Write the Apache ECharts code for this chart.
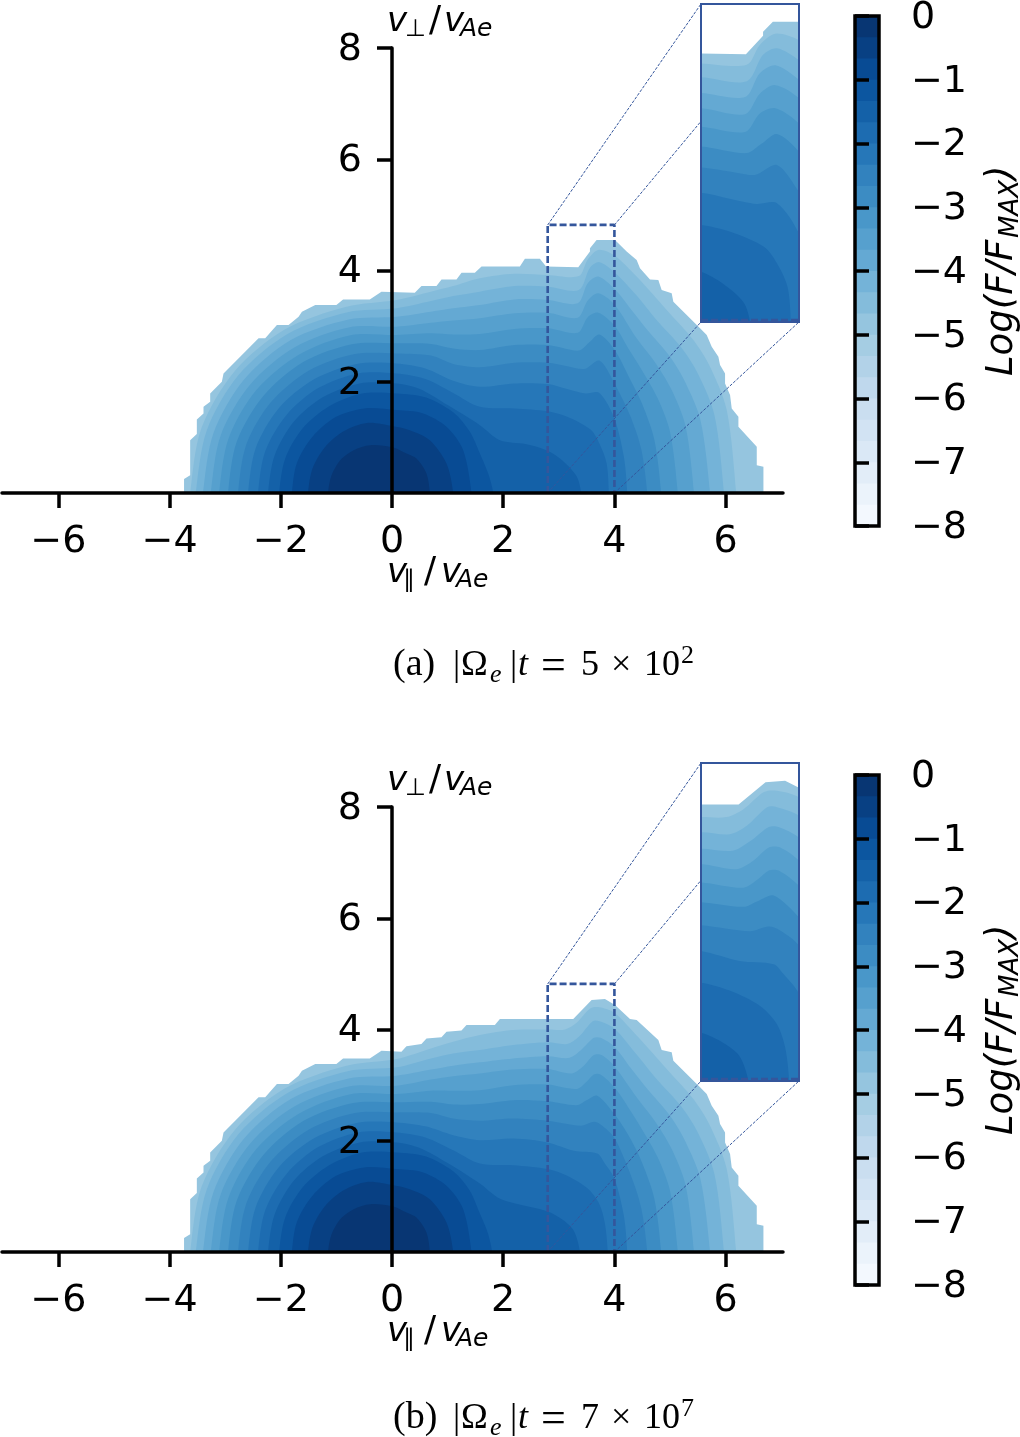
<!DOCTYPE html>
<html>
<head>
<meta charset="utf-8">
<style>
  html, body { margin: 0; padding: 0; background: #fff; }
  #chart { width: 1020px; height: 1437px; }
</style>
<script src="https://cdn.jsdelivr.net/npm/echarts@6/dist/echarts.min.js"></script>
</head>
<body>
<div id="chart"></div>
<script>
// axis ticks
const xTicks = [-6, -4, -2, 0, 2, 4, 6];
const yTicks = [2, 4, 6, 8];

// colour bar, bottom to top: one band every third of a decade
const barEdges = [-8, -7.667, -7.333, -7, -6.667, -6.333, -6, -5.667, -5.333, -5, -4.667, -4.333, -4,
  -3.667, -3.333, -3, -2.667, -2.333, -2, -1.667, -1.333, -1, -0.667, -0.333, 0];
const bandColors = ['#f3f8fe', '#ebf3fb', '#e2edf8', '#dae8f6', '#d2e3f3', '#cadef0', '#bfd8ed', '#b2d2e8',
  '#a5cde3', '#95c5df', '#84bcdb', '#74b3d8', '#64a9d3', '#56a0ce', '#4997c9', '#3c8cc3', '#3282be', '#2677b8',
  '#1d6cb1', '#1461a8', '#0c56a0', '#084b94', '#084083', '#083673'];

// contour levels drawn, inner to outer
const contourLevels = [-0.333, -0.667, -1, -1.333, -1.667, -2, -2.333, -2.667, -3, -3.333, -3.667, -4, -4.333, -4.667, -5];

// left half of each contour (same in both panels), from the baseline up to the v_perp axis
const contourLeft = [
  [[-1.15,0],[-1.09,.31],[-.93,.59],[-.69,.77],[-.39,.86]],
  [[-1.51,0],[-1.43,.44],[-1.21,.82],[-.87,1.11],[-.45,1.26]],
  [[-1.80,0],[-1.71,.54],[-1.43,1.01],[-1.02,1.36],[-.50,1.52]],
  [[-2.03,0],[-1.92,.62],[-1.61,1.16],[-1.13,1.56],[-.54,1.79]],
  [[-2.23,0],[-2.11,.68],[-1.76,1.29],[-1.23,1.73],[-.58,1.97]],
  [[-2.41,0],[-2.28,.75],[-1.90,1.40],[-1.32,1.89],[-.61,2.15]],
  [[-2.59,0],[-2.45,.81],[-2.04,1.52],[-1.41,2.04],[-.64,2.32]],
  [[-2.77,0],[-2.62,.87],[-2.18,1.63],[-1.50,2.20],[-.67,2.50]],
  [[-2.95,0],[-2.79,.93],[-2.31,1.75],[-1.59,2.36],[-.70,2.68]],
  [[-3.11,0],[-2.94,.98],[-2.44,1.85],[-1.67,2.49],[-.73,2.84]],
  [[-3.26,0],[-3.08,1.04],[-2.55,1.95],[-1.75,2.62],[-.76,2.98]],
  [[-3.40,0],[-3.21,1.08],[-2.66,2.04],[-1.82,2.75],[-.78,3.12]],
  [[-3.53,0],[-3.33,1.13],[-2.76,2.12],[-1.88,2.86],[-.80,3.25]],
  [[-3.63,0],[-3.43,1.16],[-2.83,2.19],[-1.93,2.94],[-.82,3.35]],
  [[-3.74,0],[-3.74,.25],[-3.63,.32],[-3.63,.95],[-3.51,1.06],[-3.51,1.32],[-3.39,1.43],[-3.39,1.55],[-3.27,1.64],
   [-3.27,1.79],[-3.06,2.00],[-3.03,2.15],[-2.40,2.78],[-2.28,2.78],[-2.07,3.02],[-1.86,3.02],[-1.68,3.17],[-1.62,3.26],
   [-1.38,3.38],[-1.00,3.38],[-.88,3.48],[-.40,3.48],[-.19,3.62]]
];

// right half of each contour, panel (a)
const contourRightA = [
  [[.02,.82],[.26,.71],[.44,.62],[.62,.35],[.68,0]],
  [[.02,1.2],[.32,1.13],[.68,.95],[.98,.53],[1.10,0]],
  [[.08,1.49],[.56,1.43],[.98,1.19],[1.28,.77],[1.43,0]],
  [[.08,1.79],[.6,1.72],[1.1,1.45],[1.4,1.1],[1.58,.71],[1.73,.35],[1.82,0]],
  [[.08,1.97],[.5,1.87],[1.0,1.58],[1.58,1.22],[1.94,.95],[2.4,.88],[2.8,.76],[3.07,.58],[3.32,.30],[3.40,0]],
  [[.08,2.15],[.6,2.05],[1.1,1.8],[1.58,1.55],[2.2,1.52],[2.8,1.47],[3.15,1.37],[3.57,1.14],[3.73,.89],[3.86,.53],[3.90,0]],
  [[.08,2.33],[.6,2.24],[1.1,2.02],[1.58,1.91],[2.2,1.97],[2.8,1.96],[3.15,1.87],[3.48,1.79],[3.73,1.80],[4,1.34],[4.17,.65],[4.23,0]],
  [[.08,2.51],[.7,2.47],[1.1,2.32],[1.58,2.26],[2.2,2.34],[2.8,2.34],[3.15,2.28],[3.46,2.23],[3.73,2.38],[4,1.97],[4.28,1.4],[4.48,.8],[4.59,0]],
  [[.08,2.69],[.7,2.68],[1.1,2.6],[1.58,2.57],[2.2,2.66],[2.8,2.66],[3.36,2.56],[3.54,2.70],[3.73,2.85],[4,2.58],[4.28,2.05],[4.5,1.6],[4.72,.95],[4.84,0]],
  [[.08,2.84],[.7,2.87],[1.1,2.85],[1.58,2.86],[2.2,2.95],[2.8,2.96],[3.34,2.88],[3.52,3.16],[3.71,3.24],[4,3.01],[4.25,2.6],[4.5,2.2],[4.78,1.7],[5,1.1],[5.14,0]],
  [[.08,2.99],[.7,3.06],[1.1,3.1],[1.58,3.14],[2.2,3.23],[2.8,3.24],[3.34,3.15],[3.52,3.46],[3.71,3.59],[4,3.39],[4.4,2.78],[4.75,2.32],[5.03,1.85],[5.28,1.2],[5.43,0]],
  [[.08,3.17],[.7,3.26],[1.1,3.32],[1.58,3.38],[2.2,3.48],[2.8,3.47],[3.34,3.41],[3.52,3.77],[3.71,3.89],[4,3.67],[4.3,3.3],[4.6,2.92],[5,2.45],[5.27,2.0],[5.55,1.3],[5.72,0]],
  [[.08,3.32],[.7,3.45],[1.1,3.54],[1.58,3.62],[2.2,3.72],[2.8,3.71],[3.36,3.65],[3.56,4.05],[3.73,4.15],[4,3.97],[4.4,3.55],[4.75,3.12],[5.2,2.62],[5.5,2.15],[5.8,1.4],[5.97,0]],
  [[.08,3.47],[.7,3.62],[1.1,3.72],[1.58,3.86],[2.2,3.94],[2.8,3.92],[3.36,3.90],[3.52,4.2],[3.71,4.37],[4,4.27],[4.4,3.89],[4.94,3.29],[5.42,2.75],[5.72,2.27],[6.02,1.49],[6.19,0]],
  [[.41,3.60],[.53,3.72],[.80,3.72],[.89,3.84],[1.16,3.84],[1.25,3.96],[1.49,3.96],[1.61,4.07],[2.30,4.07],[2.39,4.21],[2.66,4.21],[2.77,4.07],
   [3.35,4.06],[3.56,4.34],[3.56,4.40],[3.68,4.55],[4.01,4.55],[4.22,4.34],[4.40,4.19],[4.46,4.04],[4.64,3.84],[4.79,3.83],[4.85,3.65],[5.03,3.59],
   [5.06,3.44],[5.54,2.96],[5.66,2.84],[5.75,2.63],[5.87,2.45],[5.90,2.30],[5.99,2.15],[5.99,1.97],[6.08,1.76],[6.11,1.52],[6.23,1.37],[6.23,1.19],
   [6.56,.83],[6.56,.50],[6.68,.47],[6.68,0]]
];

// right half of each contour, panel (b)
const contourRightB = [
  [[.02,.82],[.26,.71],[.44,.62],[.62,.35],[.68,0]],
  [[.02,1.2],[.32,1.13],[.68,.95],[.98,.53],[1.10,0]],
  [[.08,1.49],[.56,1.43],[.98,1.19],[1.28,.77],[1.43,0]],
  [[.08,1.79],[.6,1.72],[1.1,1.45],[1.4,1.1],[1.58,.69],[1.72,.35],[1.80,0]],
  [[.08,1.97],[.5,1.87],[1.0,1.6],[1.58,1.23],[1.9,.98],[2.18,.88],[2.8,.73],[3.07,.58],[3.27,.38],[3.38,0]],
  [[.08,2.15],[.6,2.06],[1.1,1.83],[1.58,1.59],[2.18,1.56],[2.8,1.49],[3.15,1.37],[3.52,1.14],[3.73,.86],[3.83,.51],[3.88,0]],
  [[.08,2.33],[.6,2.26],[1.1,2.1],[1.58,2.01],[2.18,2.04],[2.8,1.97],[3.27,1.82],[3.69,1.77],[3.81,1.62],[4,1.32],[4.17,.65],[4.23,0]],
  [[.08,2.51],[.7,2.5],[1.1,2.4],[1.58,2.36],[2.18,2.40],[2.8,2.36],[3.40,2.27],[3.63,2.34],[3.77,2.28],[4,2.05],[4.28,1.42],[4.48,.8],[4.59,0]],
  [[.08,2.69],[.7,2.7],[1.1,2.65],[1.58,2.66],[2.18,2.73],[2.8,2.71],[3.32,2.64],[3.5,2.73],[3.69,2.81],[4,2.48],[4.28,2.05],[4.5,1.6],[4.72,.95],[4.84,0]],
  [[.08,2.84],[.7,2.9],[1.1,2.9],[1.58,2.91],[2.18,3.0],[2.8,3.01],[3.32,2.93],[3.5,3.06],[3.63,3.19],[3.75,3.19],[4,2.96],[4.25,2.6],[4.5,2.2],[4.78,1.7],[5,1.1],[5.14,0]],
  [[.08,2.99],[.7,3.1],[1.1,3.16],[1.58,3.21],[2.18,3.28],[2.8,3.29],[3.23,3.21],[3.44,3.34],[3.63,3.54],[3.77,3.54],[4,3.34],[4.4,2.78],[4.75,2.32],[5.03,1.85],[5.28,1.2],[5.43,0]],
  [[.08,3.17],[.7,3.28],[1.1,3.35],[1.58,3.41],[2.18,3.48],[2.8,3.52],[3.19,3.49],[3.41,3.64],[3.63,3.85],[3.75,3.85],[4,3.69],[4.3,3.3],[4.6,2.92],[5,2.45],[5.27,2.0],[5.55,1.3],[5.72,0]],
  [[.08,3.32],[.7,3.48],[1.1,3.57],[1.58,3.63],[2.18,3.72],[2.8,3.77],[3.15,3.74],[3.36,3.87],[3.61,4.15],[3.73,4.15],[4,4.02],[4.4,3.55],[4.75,3.12],[5.2,2.62],[5.5,2.15],[5.8,1.4],[5.97,0]],
  [[.08,3.47],[.7,3.66],[1.1,3.78],[1.58,3.9],[2.18,3.99],[2.8,4.0],[3.11,4.0],[3.32,4.12],[3.57,4.38],[3.73,4.40],[4,4.30],[4.4,3.89],[4.94,3.29],[5.42,2.75],[5.72,2.27],[6.02,1.49],[6.19,0]],
  [[.17,3.60],[.26,3.70],[.53,3.74],[.62,3.84],[.89,3.86],[.98,3.96],[1.25,3.98],[1.34,4.08],[1.85,4.08],[1.94,4.19],[3.26,4.19],[3.59,4.53],[3.83,4.55],
   [4.01,4.44],[4.28,4.19],[4.40,4.17],[4.79,3.81],[4.85,3.63],[5.03,3.59],[5.06,3.44],[5.54,2.96],[5.66,2.84],[5.75,2.63],[5.87,2.45],[5.90,2.30],
   [5.99,2.15],[5.99,1.97],[6.08,1.76],[6.11,1.52],[6.23,1.37],[6.23,1.19],[6.56,.83],[6.56,.50],[6.68,.47],[6.68,0]]
];

// zoomed region, and the inset corners it connects to (in main axis units)
const zoomBox = [[2.8, 0], [2.8, 4.82], [4, 4.82], [4, 0], [2.8, 0]];
const connectors = [
  [[2.8, 4.82], [5.557, 8.795]],
  [[4, 4.82], [7.32, 8.795]],
  [[2.8, 0], [5.557, 3.076]],
  [[4, 0], [7.32, 3.076]]
];

const BLUE = '#34569c';
const minus = (v) => String(v).replace('-', '\u2212');

const option = { animation: false, backgroundColor: '#fff', grid: [], xAxis: [], yAxis: [], series: [], graphic: { elements: [] } };

const contourSeries = (gridIdx, contours, z) => ({
  type: 'custom',
  xAxisIndex: gridIdx,
  yAxisIndex: gridIdx,
  clip: true,
  z: z,
  data: contourLevels.map((l, i) => [contourLevels.length - 1 - i, l]),
  encode: { x: 0, y: 1 },
  silent: true,
  renderItem: (params, api) => {
    const i = api.value(0);
    const pts = contours[i];
    // run the outline under the baseline, the clip trims it
    const outline = [[pts[0][0], -0.4]].concat(pts, [[pts[pts.length - 1][0], -0.4]]);
    return {
      type: 'polygon',
      shape: { points: outline.map((p) => api.coord(p)), smooth: i < 14 ? 0.3 : 0 },
      style: { fill: bandColors[23 - i], stroke: null }
    };
  }
});

const rectSeries = (gridIdx, corners, style, z) => ({
  type: 'custom',
  xAxisIndex: gridIdx,
  yAxisIndex: gridIdx,
  z: z,
  silent: true,
  data: [corners],
  encode: { x: [0, 2], y: [1, 3] },
  renderItem: (params, api) => {
    const a = api.coord([api.value(0), api.value(1)]);
    const b = api.coord([api.value(2), api.value(3)]);
    return { type: 'rect', shape: { x: a[0], y: b[1], width: b[0] - a[0], height: a[1] - b[1] }, style: style };
  }
});

// mathtext style labels built from pieces: [text, x, baseline, size, italic, family]
const SANS = 'DejaVu Sans';
const SERIF = 'Liberation Serif';
const piece = ([text, x, y, size, italic, family]) => ({
  type: 'text',
  x: x,
  y: y + size * 0.2,
  z: 20,
  silent: true,
  style: {
    text: text, fontSize: size, fontFamily: family || SANS, fontStyle: italic ? 'italic' : 'normal',
    fill: '#000', align: 'left', verticalAlign: 'bottom'
  }
});

function addPanel(dy, rights, tag, exponent, mantissa, captionDy) {
  const contours = contourLeft.map((l, i) => l.concat(rights[i]));
  const g = option.grid.length;

  // main axes
  option.grid.push({ left: 2, top: 48 + dy, width: 781, height: 445, outerBoundsMode: 'none' });
  option.xAxis.push({
    type: 'value', gridIndex: g, min: -7.014, max: 7.032, z: 10,
    axisLine: { lineStyle: { color: '#000', width: 3.5 } },
    axisTick: { customValues: xTicks, length: 15, lineStyle: { color: '#000', width: 3.5 } },
    axisLabel: { customValues: xTicks, formatter: minus, fontSize: 38, fontFamily: SANS, color: '#000', margin: 30 },
    splitLine: { show: false }
  });
  // offset puts the axis on v_par = 0, it keeps its labels with it
  // a short line box under the tick nudges the digits down to the tick centre
  option.yAxis.push({
    type: 'value', gridIndex: g, min: 0, max: 8, z: 10, offset: -390,
    axisLine: { onZero: false, lineStyle: { color: '#000', width: 3.5 } },
    axisTick: { customValues: yTicks, length: 15, lineStyle: { color: '#000', width: 3.5 } },
    axisLabel: { customValues: yTicks, fontSize: 38, fontFamily: SANS, color: '#000', margin: 30, verticalAlign: 'top', lineHeight: 4 },
    splitLine: { show: false }
  });
  option.series.push(contourSeries(g, contours, 2));
  option.series.push({
    type: 'line', xAxisIndex: g, yAxisIndex: g, data: zoomBox, symbol: 'none', z: 3, silent: true,
    lineStyle: { color: BLUE, width: 2.6, type: [7, 3] }
  });

  // connectors: hidden axes with the same scale as the main ones, spanning the whole panel
  const k = g + 1;
  option.grid.push({ left: 0, top: dy, width: 1020, height: 800, outerBoundsMode: 'none' });
  option.xAxis.push({ type: 'value', gridIndex: k, min: -7.05, max: 11.295, show: false });
  option.yAxis.push({ type: 'value', gridIndex: k, min: -5.522, max: 8.867, show: false });
  connectors.forEach((c) => option.series.push({
    type: 'line', xAxisIndex: k, yAxisIndex: k, data: c, symbol: 'none', z: 4, silent: true,
    lineStyle: { color: BLUE, width: 1, type: [3, 1.5] }
  }));

  // inset
  const n = g + 2;
  option.grid.push({ left: 701, top: 4 + dy, width: 98, height: 318, outerBoundsMode: 'none' });
  option.xAxis.push({ type: 'value', gridIndex: n, min: 2.8, max: 4, show: false });
  option.yAxis.push({ type: 'value', gridIndex: n, min: 0, max: 4.82, show: false });
  option.series.push(rectSeries(n, [2.8, 0, 4, 4.82], { fill: '#fff' }, 5));
  option.series.push(contourSeries(n, contours, 6));
  option.series.push({
    type: 'line', xAxisIndex: n, yAxisIndex: n, data: [[2.8, 0.03], [4, 0.03]], symbol: 'none', z: 7, silent: true,
    lineStyle: { color: BLUE, width: 2.4, type: [7, 3] }
  });
  option.series.push(rectSeries(n, [2.8, 0, 4, 4.82], { fill: null, stroke: BLUE, lineWidth: 2 }, 8));

  // colour bar
  const c = g + 3;
  option.grid.push({ left: 855, top: 16 + dy, width: 24, height: 510, outerBoundsMode: 'none' });
  option.xAxis.push({ type: 'value', gridIndex: c, min: 0, max: 1, show: false });
  option.yAxis.push({
    type: 'value', gridIndex: c, position: 'right', min: -8, max: 0, interval: 1, z: 10,
    axisLine: { show: false },
    axisTick: { length: 14, lineStyle: { color: '#000', width: 3.5 } },
    axisLabel: { formatter: minus, fontSize: 38, fontFamily: SANS, color: '#000', margin: 32, verticalAlign: 'top', lineHeight: 4 },
    splitLine: { show: false }
  });
  option.series.push({
    type: 'custom', xAxisIndex: c, yAxisIndex: c, z: 2, silent: true,
    data: bandColors.map((col, i) => [0, barEdges[i], 1, barEdges[i + 1], i]),
    encode: { x: [0, 2], y: [1, 3] },
    renderItem: (params, api) => {
      // each band runs to the top of the bar, the next one paints over it, so no seams
      const a = api.coord([0, api.value(1)]);
      const b = api.coord([1, 0]);
      return {
        type: 'rect',
        shape: { x: a[0], y: b[1], width: b[0] - a[0], height: a[1] - b[1] },
        style: { fill: bandColors[api.value(4)] }
      };
    }
  });
  option.series.push(rectSeries(c, [0, -8, 1, 0], { fill: null, stroke: '#000', lineWidth: 3.5 }, 9));

  // axis titles
  const els = option.graphic.elements;
  [['v', 387, 32, 34, 1], ['\u22a5', 405, 37, 24, 0], ['/', 429, 32, 36, 0], ['v', 444, 32, 34, 1], ['Ae', 460, 37, 25, 1],
   ['v', 387, 583, 34, 1], ['\u2225', 403, 588, 24, 0], ['/', 424, 583, 36, 0], ['v', 441, 583, 34, 1], ['Ae', 456, 588, 25, 1]]
    .forEach((p) => { const q = p.slice(); q[2] += dy; els.push(piece(q)); });

  // colour bar title, rotated
  els.push({
    type: 'group', x: 1013, y: 376 + dy, rotation: Math.PI / 2,
    children: [piece(['Log(F/F', 0, 0, 37, 1]), piece(['MAX', 138, 6, 26, 1]), piece([')', 196, 0, 37, 1])]
  });

  // caption
  const base = 676 + captionDy;
  [[tag, 393, base, 38, 0, SERIF], ['|', 453, base, 36, 0, SERIF], ['\u03a9', 461, base, 36, 0, SERIF], ['e', 490, base + 7, 26, 1, SERIF],
   ['|', 510, base, 36, 0, SERIF], ['t', 518, base, 36, 1, SERIF], ['=', 541, base + 5, 44, 0, SERIF], [mantissa, 581, base, 36, 0, SERIF],
   ['\u00d7', 611, base, 36, 0, SERIF], ['10', 644, base, 36, 0, SERIF], [exponent, 681, base - 12, 26, 0, SERIF]]
    .forEach((p) => els.push(piece(p)));
}

addPanel(0, contourRightA, '(a)', '2', '5', 0);
addPanel(759, contourRightB, '(b)', '7', '7', 753);

const chart = echarts.init(document.getElementById('chart'), null, { renderer: 'canvas' });
chart.setOption(option);
</script>
</body>
</html>
